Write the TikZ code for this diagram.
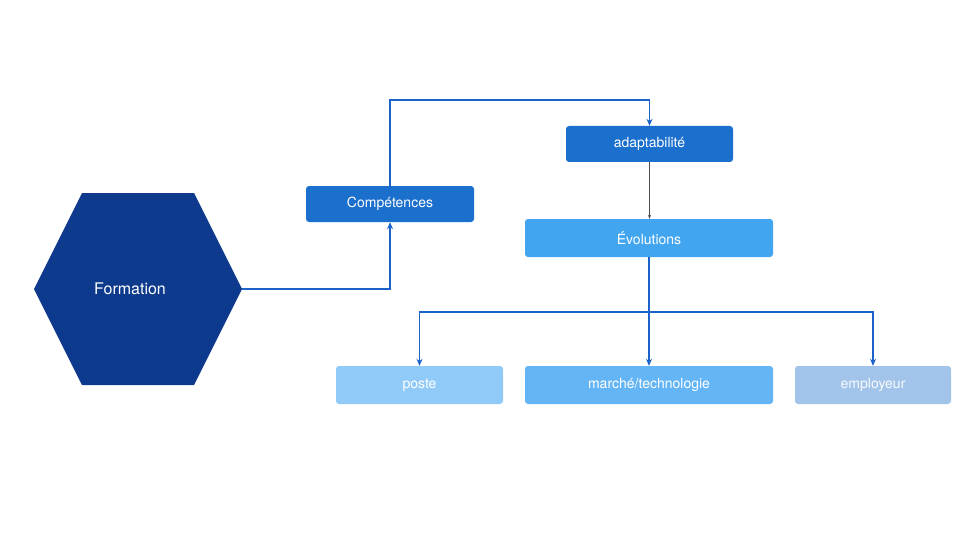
\documentclass[tikz,border=0pt]{standalone}
\usepackage{fontspec}
\setmainfont{TeX Gyre Heros}
\usetikzlibrary{arrows.meta}
\definecolor{hex}{HTML}{0D3A8C}
\definecolor{cA}{HTML}{1B6FCD}
\definecolor{cE}{HTML}{42A5F0}
\definecolor{cP}{HTML}{90CAF9}
\definecolor{cM}{HTML}{64B5F6}
\definecolor{cEm}{HTML}{A3C4EA}
\definecolor{ln}{HTML}{1B63C8}
\begin{document}
\begin{tikzpicture}[x=1pt,y=-1pt,
  box/.style={draw=none,rounded corners=3pt,text=white,font=\fontsize{14}{16}\selectfont,minimum height=36pt,inner sep=0pt},
  conn/.style={draw=ln,line width=1.3pt,-{Stealth[length=7pt,width=6pt]}}]
\useasboundingbox (0,0) rectangle (960,540);
\fill[hex] (34,289)--(82,193)--(194,193)--(242,289)--(194,385)--(82,385)--cycle;
\node[text=white,font=\fontsize{16}{18}\selectfont] (f) at (130,289) {Formation};
\coordinate (fr) at (242,289);
\node[box,fill=cA,minimum width=168pt] (c) at (390,204) {Compétences};
\node[box,fill=cA,minimum width=167pt] (a) at (649.5,144) {adaptabilité};
\node[box,fill=cE,minimum width=248pt,minimum height=38pt] (e) at (649,238) {Évolutions};
\node[box,fill=cP,minimum width=167pt,minimum height=38pt] (p) at (419.5,385) {poste};
\node[box,fill=cM,minimum width=248pt,minimum height=38pt] (m) at (649,385) {marché/technologie};
\node[box,fill=cEm,text=white!92!cEm,minimum width=156pt,minimum height=38pt] (em) at (873,385) {employeur};
\draw[conn] (fr) -| (c.south);
\draw[conn] (c.north) |- (649.5,100) -- (a.north);
\draw[draw=black!70,line width=0.5pt,-{Stealth[length=4pt,width=3pt]}] (a.south) -- (a.south|-e.north);
\draw[conn] (e.south) -- (m.north);
\draw[conn] (649,312) -| (p.north);
\draw[conn] (649,312) -| (em.north);
\end{tikzpicture}
\end{document}
